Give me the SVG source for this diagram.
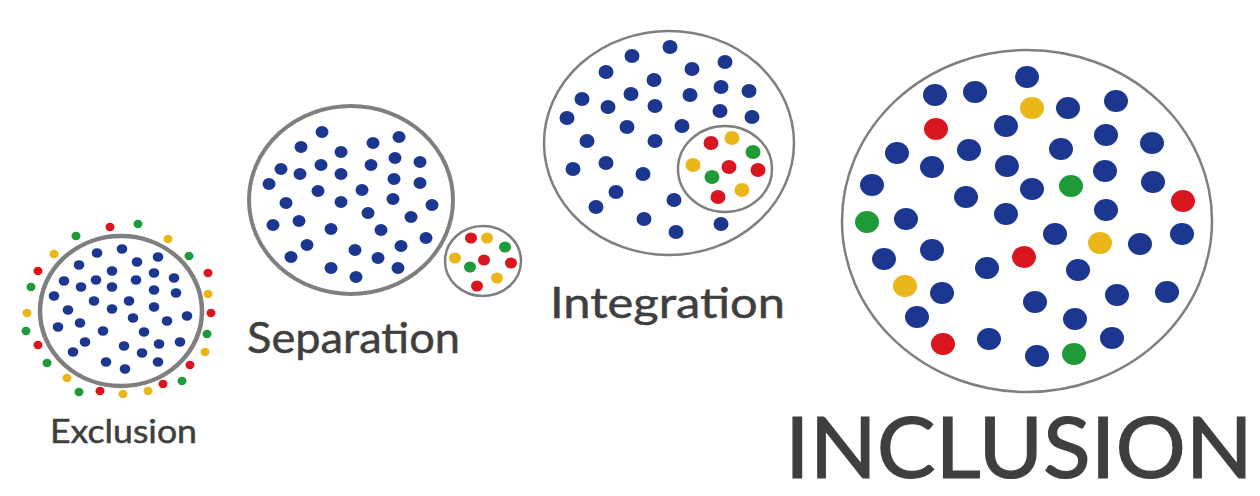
<svg xmlns="http://www.w3.org/2000/svg" xmlns:xlink="http://www.w3.org/1999/xlink" width="1260" height="496" viewBox="0 0 1260 496">
<style>
.ring{fill:none;stroke:#7f7f7f}
.lbl{font-family:Lato,"Open Sans","Liberation Sans",sans-serif;fill:#3f3f3f;stroke:#3f3f3f;stroke-width:0.5}
</style>
<defs>
<ellipse id="eb" rx="5.3" ry="4.8" fill="#1c3790"/>
<ellipse id="er" rx="4.5" ry="4.2" fill="#d9161f"/>
<ellipse id="eg" rx="4.5" ry="4.2" fill="#1e9a38"/>
<ellipse id="ey" rx="4.5" ry="4.2" fill="#e9b71a"/>
<ellipse id="sb" rx="6.5" ry="6" fill="#1c3790"/>
<ellipse id="sr" rx="6" ry="5.5" fill="#d9161f"/>
<ellipse id="sg" rx="6" ry="5.5" fill="#1e9a38"/>
<ellipse id="sy" rx="6" ry="5.5" fill="#e9b71a"/>
<ellipse id="ib" rx="7.5" ry="7" fill="#1c3790"/>
<ellipse id="ir" rx="7.5" ry="7" fill="#d9161f"/>
<ellipse id="ig" rx="7.5" ry="7" fill="#1e9a38"/>
<ellipse id="iy" rx="7.5" ry="7" fill="#e9b71a"/>
<ellipse id="nb" rx="12" ry="11" fill="#1c3790"/>
<ellipse id="nr" rx="12" ry="11" fill="#d9161f"/>
<ellipse id="ng" rx="12" ry="11" fill="#1e9a38"/>
<ellipse id="ny" rx="12" ry="11" fill="#e9b71a"/>
</defs>
<rect width="1260" height="496" fill="#ffffff"/>

<g id="exclusion">
<ellipse class="ring" cx="121" cy="311" rx="81" ry="75" stroke-width="4.5"/>
<use href="#eb" x="97" y="253"/><use href="#eb" x="122" y="249"/><use href="#eb" x="158" y="257"/><use href="#eb" x="137" y="262"/>
<use href="#eb" x="79" y="265"/><use href="#eb" x="112" y="271"/><use href="#eb" x="154" y="273"/><use href="#eb" x="174" y="278"/>
<use href="#eb" x="64" y="281"/><use href="#eb" x="96" y="280"/><use href="#eb" x="136" y="280"/><use href="#eb" x="81" y="287"/>
<use href="#eb" x="112" y="287"/><use href="#eb" x="154" y="290"/><use href="#eb" x="176" y="293"/><use href="#eb" x="54" y="296"/>
<use href="#eb" x="94" y="301"/><use href="#eb" x="129" y="301"/><use href="#eb" x="154" y="307"/><use href="#eb" x="68" y="310"/>
<use href="#eb" x="112" y="309"/><use href="#eb" x="133" y="318"/><use href="#eb" x="167" y="321"/><use href="#eb" x="187" y="316"/>
<use href="#eb" x="80" y="323"/><use href="#eb" x="58" y="327"/><use href="#eb" x="103" y="331"/><use href="#eb" x="144" y="332"/>
<use href="#eb" x="85" y="342"/><use href="#eb" x="180" y="342"/><use href="#eb" x="159" y="344"/><use href="#eb" x="124" y="346"/>
<use href="#eb" x="73" y="352"/><use href="#eb" x="142" y="353"/><use href="#eb" x="106" y="362"/><use href="#eb" x="158" y="362"/>
<use href="#eb" x="125" y="369"/>
<use href="#er" x="110" y="227"/><use href="#eg" x="138" y="224"/><use href="#eg" x="76" y="236"/><use href="#ey" x="168" y="239"/>
<use href="#ey" x="54" y="254"/><use href="#eg" x="189" y="256"/><use href="#er" x="38" y="271"/><use href="#er" x="208" y="273"/>
<use href="#eg" x="31" y="287"/><use href="#ey" x="208" y="294"/><use href="#ey" x="27" y="313"/><use href="#er" x="211" y="313"/>
<use href="#eg" x="26" y="331"/><use href="#eg" x="207" y="334"/><use href="#er" x="38" y="345"/><use href="#ey" x="205" y="352"/>
<use href="#eg" x="47" y="363"/><use href="#er" x="190" y="365"/><use href="#eg" x="182" y="381"/><use href="#ey" x="67" y="378"/>
<use href="#er" x="163" y="384"/><use href="#eg" x="79" y="392"/><use href="#er" x="100" y="391"/><use href="#ey" x="123" y="394"/>
<use href="#ey" x="148" y="391"/>
<text class="lbl" x="50" y="443" font-size="32" textLength="147" lengthAdjust="spacingAndGlyphs">Exclusion</text>
</g>

<g id="separation">
<ellipse class="ring" cx="351" cy="200" rx="102" ry="94" stroke-width="4"/>
<use href="#sb" x="322" y="132"/><use href="#sb" x="399" y="137"/><use href="#sb" x="373" y="143"/><use href="#sb" x="301" y="147"/>
<use href="#sb" x="341" y="152"/><use href="#sb" x="395" y="158"/><use href="#sb" x="420" y="162"/><use href="#sb" x="281" y="169"/>
<use href="#sb" x="321" y="165"/><use href="#sb" x="371" y="165"/><use href="#sb" x="300" y="174"/><use href="#sb" x="341" y="174"/>
<use href="#sb" x="394" y="179"/><use href="#sb" x="420" y="183"/><use href="#sb" x="269" y="184"/><use href="#sb" x="318" y="191"/>
<use href="#sb" x="362" y="190"/><use href="#sb" x="393" y="199"/><use href="#sb" x="286" y="203"/><use href="#sb" x="341" y="202"/>
<use href="#sb" x="432" y="205"/><use href="#sb" x="368" y="213"/><use href="#sb" x="411" y="217"/><use href="#sb" x="299" y="221"/>
<use href="#sb" x="273" y="225"/><use href="#sb" x="331" y="229"/><use href="#sb" x="381" y="230"/><use href="#sb" x="426" y="238"/>
<use href="#sb" x="307" y="245"/><use href="#sb" x="401" y="246"/><use href="#sb" x="355" y="250"/><use href="#sb" x="291" y="257"/>
<use href="#sb" x="378" y="258"/><use href="#sb" x="398" y="268"/><use href="#sb" x="331" y="268"/><use href="#sb" x="356" y="277"/>
<ellipse class="ring" cx="483" cy="261" rx="38" ry="35" stroke-width="2.5"/>
<use href="#sr" x="471" y="238"/><use href="#sy" x="487" y="238"/><use href="#sg" x="505" y="247"/><use href="#sy" x="455" y="258"/>
<use href="#sr" x="484" y="260"/><use href="#sr" x="511" y="263"/><use href="#sg" x="470" y="267"/><use href="#sy" x="497" y="278"/>
<use href="#sr" x="477" y="286"/>
<text class="lbl" x="247" y="353" font-size="43" textLength="213" lengthAdjust="spacingAndGlyphs">Separation</text>
</g>

<g id="integration">
<ellipse class="ring" cx="669" cy="143" rx="125" ry="112" stroke-width="2.5"/>
<use href="#ib" x="670" y="47"/><use href="#ib" x="632" y="56"/><use href="#ib" x="725" y="62"/><use href="#ib" x="606" y="72"/>
<use href="#ib" x="692" y="69"/><use href="#ib" x="654" y="80"/><use href="#ib" x="721" y="87"/><use href="#ib" x="749" y="91"/>
<use href="#ib" x="582" y="99"/><use href="#ib" x="631" y="94"/><use href="#ib" x="690" y="95"/><use href="#ib" x="608" y="107"/>
<use href="#ib" x="655" y="106"/><use href="#ib" x="720" y="111"/><use href="#ib" x="752" y="117"/><use href="#ib" x="567" y="118"/>
<use href="#ib" x="627" y="127"/><use href="#ib" x="682" y="126"/><use href="#ib" x="587" y="141"/><use href="#ib" x="655" y="141"/>
<use href="#ib" x="573" y="169"/><use href="#ib" x="606" y="163"/><use href="#ib" x="643" y="174"/><use href="#ib" x="616" y="192"/>
<use href="#ib" x="596" y="207"/><use href="#ib" x="674" y="200"/><use href="#ib" x="644" y="219"/><use href="#ib" x="676" y="232"/>
<use href="#ib" x="721" y="224"/>
<ellipse class="ring" cx="725" cy="169" rx="47" ry="43" stroke-width="2.5"/>
<use href="#ir" x="711" y="143"/><use href="#iy" x="732" y="138"/><use href="#ig" x="753" y="152"/><use href="#iy" x="693" y="165"/>
<use href="#ir" x="729" y="167"/><use href="#ir" x="758" y="170"/><use href="#ig" x="712" y="177"/><use href="#iy" x="742" y="190"/>
<use href="#ir" x="718" y="197"/>
<text class="lbl" x="550" y="318" font-size="42" textLength="235" lengthAdjust="spacingAndGlyphs">Integration</text>
</g>

<g id="inclusion">
<ellipse class="ring" cx="1027" cy="221" rx="185" ry="171" stroke-width="2.5"/>
<use href="#nb" x="1027" y="77"/><use href="#nb" x="935" y="95"/><use href="#nb" x="975" y="92"/><use href="#ny" x="1032" y="108"/>
<use href="#nb" x="1068" y="108"/><use href="#nb" x="1116" y="101"/><use href="#nr" x="936" y="129"/><use href="#nb" x="1006" y="126"/>
<use href="#nb" x="1106" y="135"/><use href="#nb" x="1152" y="143"/><use href="#nb" x="897" y="153"/><use href="#nb" x="969" y="150"/>
<use href="#nb" x="1061" y="149"/><use href="#nb" x="932" y="167"/><use href="#nb" x="1007" y="166"/><use href="#nb" x="1105" y="171"/>
<use href="#nb" x="1153" y="182"/><use href="#nb" x="872" y="185"/><use href="#nb" x="1032" y="189"/><use href="#ng" x="1071" y="186"/>
<use href="#nb" x="966" y="197"/><use href="#nr" x="1183" y="201"/><use href="#nb" x="1106" y="210"/><use href="#ng" x="867" y="222"/>
<use href="#nb" x="906" y="219"/><use href="#nb" x="1006" y="214"/><use href="#nb" x="1055" y="234"/><use href="#ny" x="1100" y="243"/>
<use href="#nb" x="1140" y="244"/><use href="#nb" x="1182" y="234"/><use href="#nb" x="884" y="259"/><use href="#nb" x="932" y="250"/>
<use href="#nr" x="1024" y="257"/><use href="#nb" x="987" y="268"/><use href="#nb" x="1078" y="270"/><use href="#ny" x="905" y="286"/>
<use href="#nb" x="942" y="293"/><use href="#nb" x="1117" y="295"/><use href="#nb" x="1167" y="292"/><use href="#nb" x="1035" y="302"/>
<use href="#nb" x="917" y="317"/><use href="#nb" x="1075" y="319"/><use href="#nb" x="989" y="339"/><use href="#nb" x="1112" y="338"/>
<use href="#nr" x="943" y="344"/><use href="#nb" x="1037" y="356"/><use href="#ng" x="1074" y="354"/>
<text class="lbl" x="785" y="477.5" font-size="85" textLength="468" lengthAdjust="spacingAndGlyphs" style="stroke-width:1.2">INCLUSION</text>
</g>
</svg>
